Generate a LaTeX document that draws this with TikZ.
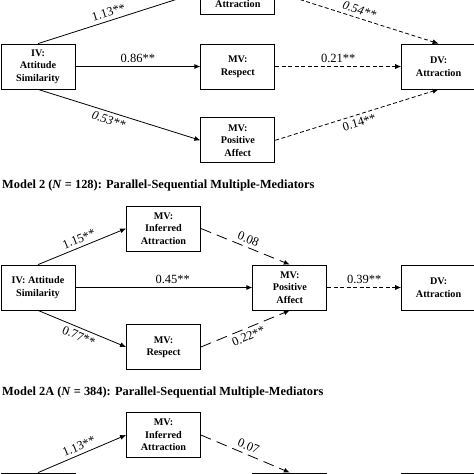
\documentclass[tikz,border=0pt]{standalone}
\usepackage{fontspec}
\setmainfont{Liberation Serif}
\usepackage{tikz}
\usetikzlibrary{positioning}
\usetikzlibrary{arrows.meta}

\tikzset{
    varbox/.style={draw, line width=0.8pt, minimum width=74pt, minimum height=45pt,
        align=center, inner sep=1pt, font=\bfseries\fontsize{10.2}{12.5}\selectfont},
    coef/.style={font=\fontsize{12.5}{14}\selectfont, inner sep=3.5pt},
    link/.style={-{Latex[length=6pt,width=5pt]}, line width=0.8pt},
    shortdash/.style={link, dash pattern=on 4pt off 2.5pt},
    longdash/.style={link, dash pattern=on 11pt off 6pt},
    heading/.style={anchor=base west, inner sep=0pt, font=\bfseries\fontsize{12.4}{14}\selectfont},
}

\begin{document}
\begin{tikzpicture}[x=1pt, y=-1pt]
    \useasboundingbox (0,0) rectangle (474,474);
    \clip (0,0) rectangle (474,474);

    % Model 1: parallel mediators
    \node [varbox] (ivA) at (38,66.5) {IV:\\Attitude\\Similarity};
    \node [varbox, right=125pt of ivA] (resA) {MV:\\Respect};
    \node [varbox, right=126pt of resA] (dvA) {DV:\\Attraction};
    \node [varbox, above=29pt of resA] (infA) {MV:\\Inferred\\Attraction};
    \node [varbox, below=28pt of resA] (posA) {MV:\\Positive\\Affect};

    \draw [link] (ivA.north) -- node [coef, sloped, above, pos=0.45] {1.13**} (infA.west);
    \draw [link] (ivA.east) -- node [coef, above] {0.86**} (resA.west);
    \draw [link] (ivA.south) -- node [coef, sloped, below, pos=0.45] {\itshape 0.53**} (posA.west);
    \draw [shortdash] (infA.east) -- node [coef, sloped, above] {\itshape 0.54**} (dvA.north);
    \draw [shortdash] (resA.east) -- node [coef, above] {0.21**} (dvA.west);
    \draw [shortdash] (posA.east) -- node [coef, sloped, below] {0.14**} (dvA.south);

    % Model 2
    \node [heading] (titleB) at (2,188.5) {Model 2 (\textit{N} = 128): Parallel-Sequential Multiple-Mediators};
    \node [varbox] (ivB) at (38,287.5) {IV: Attitude\\Similarity};
    \node [varbox, right=177pt of ivB] (posB) {MV:\\Positive\\Affect};
    \node [varbox, right=74pt of posB] (dvB) {DV:\\Attraction};
    \node [varbox] (infB) at (163.5,228.5) {MV:\\Inferred\\Attraction};
    \node [varbox] (resB) at (163.5,347) {MV:\\Respect};

    \draw [link] (ivB.north) -- node [coef, sloped, above] {1.15**} (infB.west);
    \draw [link] (ivB.east) -- node [coef, above, pos=0.55] {0.45**} (posB.west);
    \draw [link] (ivB.south) -- node [coef, sloped, below] {0.77**} (resB.west);
    \draw [longdash] (infB.east) -- node [coef, sloped, above] {0.08} (posB.north);
    \draw [longdash] (resB.east) -- node [coef, sloped, below] {0.22**} (posB.south);
    \draw [shortdash] (posB.east) -- node [coef, above] {0.39**} (dvB.west);

    % Model 2A
    \node [heading] (titleC) at (2,395) {Model 2A (\textit{N} = 384): Parallel-Sequential Multiple-Mediators};
    \node [varbox] (ivC) at (38,495.5) {IV: Attitude\\Similarity};
    \node [varbox, right=177pt of ivC] (posC) {MV:\\Positive\\Affect};
    \node [varbox, right=74pt of posC] (dvC) {DV:\\Attraction};
    \node [varbox] (infC) at (163.5,435) {MV:\\Inferred\\Attraction};

    \draw [link] (ivC.north) -- node [coef, sloped, above] {1.13**} (infC.west);
    \draw [longdash] (infC.east) -- node [coef, sloped, above] {0.07} (posC.north);
\end{tikzpicture}
\end{document}
